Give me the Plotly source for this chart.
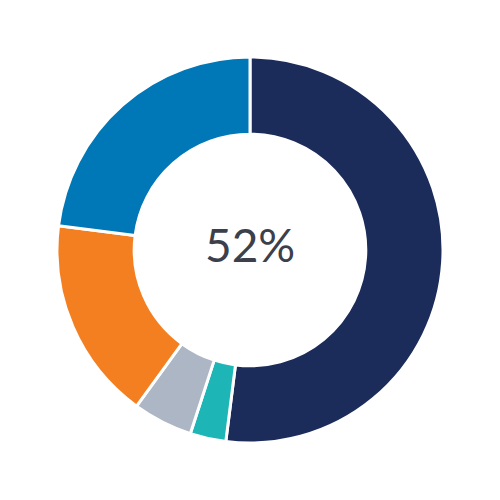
import plotly.graph_objects as go

# slice shares, clockwise from 12 o'clock
labels = ['Navy', 'Teal', 'Gray', 'Orange', 'Blue']
values = [52, 3, 5, 17, 23]
colors = ['#1b2c5a', '#1db5b6', '#adb6c5', '#f37f21', '#0077b6']
center_text = '52%'

donut = go.Pie(labels=labels, values=values,
               hole=0.6,
               sort=False,
               direction='clockwise',
               rotation=0,
               textinfo='none',
               hoverinfo='label+percent',
               marker=dict(colors=colors, line=dict(color='white', width=3)))

fig = go.Figure(data=[donut])
# page body adds 8px, so shift the plot area up/left to keep the ring centred
fig.update_layout(width=500, height=500,
                  margin=dict(l=49, r=65, t=49, b=65),
                  showlegend=False,
                  paper_bgcolor='white',
                  annotations=[dict(text=center_text, x=0.5, y=0.5, xref='paper', yref='paper',
                                    showarrow=False, yshift=6,
                                    font=dict(family='Lato', size=46, color='#3b404b'))])
fig.write_html('out.html')
